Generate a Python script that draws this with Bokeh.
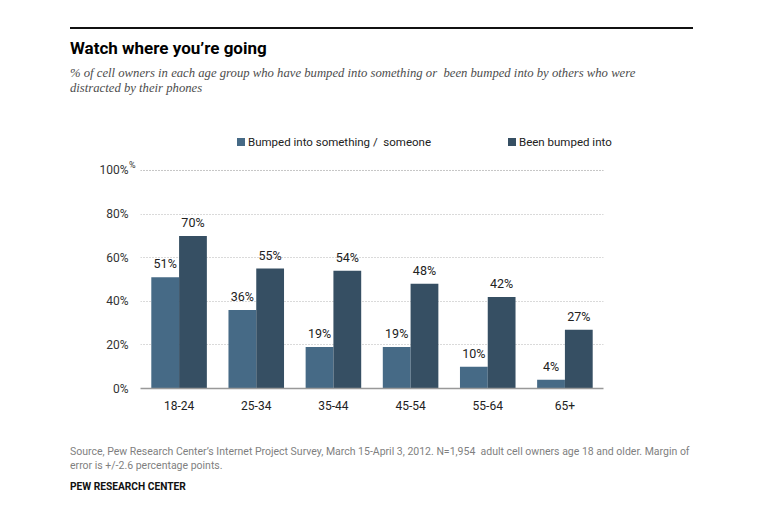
from bokeh.plotting import figure
from bokeh.models import (ColumnDataSource, FactorRange, Range1d, LabelSet, FixedTicker,
                          LinearAxis, CustomJSTickFormatter, Div, Span)
from bokeh.layouts import column
from bokeh.transform import dodge
from bokeh.core.properties import value
from bokeh.embed import file_html
from bokeh.resources import INLINE

categories = ["18-24", "25-34", "35-44", "45-54", "55-64", "65+"]
bumped_into = [51, 36, 19, 19, 10, 4]
been_bumped = [70, 55, 54, 48, 42, 27]
y_ticks = [0, 20, 40, 60, 80, 100]
y_tick_labels = ["0%", "20%", "40%", "60%", "80%", "100%"]
series_names = ["Bumped into something /  someone", "Been bumped into"]

title_text = "Watch where you\u2019re going"
subtitle_lines = ["% of cell owners in each age group who have bumped into something or  been bumped into by others who were",
                  "distracted by their phones"]
note_lines = ["Source, Pew Research Center\u2019s Internet Project Survey, March 15-April 3, 2012. N=1,954  adult cell owners age 18 and older. Margin of",
              "error is +/-2.6 percentage points."]
credit_text = "PEW RESEARCH CENTER"

C_LIGHT = "#466A86"
C_DARK = "#364F63"
SANS = "Roboto"
GRID_COLOR = "#b4b4b4"
W = 744
HEAD_H = 150
FIG_H = 280
FOOT_H = 72

src = ColumnDataSource(dict(
    cat=categories,
    v1=bumped_into,
    v2=been_bumped,
    t1=[f"{v}%" for v in bumped_into],
    t2=[f"{v}%" for v in been_bumped],
))

p = figure(width=W, height=FIG_H, x_range=FactorRange(factors=categories, range_padding=0),
           y_range=Range1d(0, 103.2), output_backend="svg", toolbar_location=None,
           min_border_left=140, min_border_right=141, min_border_top=13, min_border_bottom=42,
           margin=0)
p.outline_line_color = None

p.vbar(x=dodge("cat", -0.18, range=p.x_range), top="v1", width=0.36, source=src,
       fill_color=C_LIGHT, line_color=None)
p.vbar(x=dodge("cat", 0.18, range=p.x_range), top="v2", width=0.36, source=src,
       fill_color=C_DARK, line_color=None)

for col, tcol, off in (("v1", "t1", -0.18), ("v2", "t2", 0.18)):
    p.add_layout(LabelSet(x=dodge("cat", off, range=p.x_range), y=col, text=tcol, source=src,
                          y_offset=6, text_align="center", text_baseline="bottom",
                          text_font=value(SANS), text_font_size=value("12.5px"),
                          text_color=value("#222222")))

p.xgrid.grid_line_color = None
p.ygrid.ticker = FixedTicker(ticks=y_ticks)
p.ygrid.grid_line_color = GRID_COLOR
p.ygrid.grid_line_dash = "1 2"
p.ygrid.grid_line_width = 1
p.add_layout(Span(location=y_ticks[-1], dimension="width", line_color=GRID_COLOR,
                  line_dash="1 2", line_width=1))

main_y = p.yaxis[0]
main_y.ticker = FixedTicker(ticks=y_ticks)
main_y.major_label_overrides = {t: l for t, l in zip(y_ticks, y_tick_labels)}
main_y.axis_line_color = None
main_y.major_tick_line_color = None
main_y.major_tick_out = 0
main_y.minor_tick_line_color = None
main_y.major_label_standoff = -3
main_y.major_label_text_font = SANS
main_y.major_label_text_font_size = "12px"
main_y.major_label_text_color = "#333333"

# small raised "%" beside the 100% label
pct_axis = LinearAxis(ticker=FixedTicker(ticks=[102.5]),
                      formatter=CustomJSTickFormatter(code="return '%';"),
                      axis_line_color=None, major_tick_line_color=None, major_tick_out=0,
                      minor_tick_line_color=None, major_label_standoff=5,
                      major_label_text_font=SANS, major_label_text_font_size="9px",
                      major_label_text_color="#333333")
p.left = [pct_axis, main_y]

p.xaxis.axis_line_color = "#999999"
p.xaxis.axis_line_width = 1.5
p.xaxis.major_tick_line_color = None
p.xaxis.major_tick_out = 0
p.xaxis.minor_tick_line_color = None
p.xaxis.major_label_standoff = 12
p.xaxis.major_label_text_font = SANS
p.xaxis.major_label_text_font_size = "12px"
p.xaxis.major_label_text_color = "#222222"


def abs_text(left, top, lh, text, font, color, extra=""):
    return (f'<div style="position:absolute;left:{left}px;top:{top}px;line-height:{lh}px;'
            f'font:{font};color:{color};white-space:pre;{extra}">{text}</div>')


SERIF_IT = "italic 12.7px 'Liberation Serif', serif"
head_parts = [
    '<div style="position:absolute;left:70px;top:27px;width:623px;height:2px;background:#111111;"></div>',
    abs_text(70, 38, 20, title_text, f"bold 17px {SANS}", "#000000"),
    abs_text(70, 65.5, 15, subtitle_lines[0], SERIF_IT, "#4d4d4d"),
    abs_text(70, 80.5, 15, subtitle_lines[1], SERIF_IT, "#4d4d4d"),
]
for lx, color, name in ((237, C_LIGHT, series_names[0]), (508, C_DARK, series_names[1])):
    head_parts.append(f'<div style="position:absolute;left:{lx}px;top:138px;width:8px;height:8px;background:{color};"></div>')
    head_parts.append(abs_text(lx + 11, 135, 14, name, f"11.5px {SANS}", "#222222"))
header = Div(text=f'<div style="position:relative;width:{W}px;height:{HEAD_H}px;">' + "".join(head_parts) + "</div>",
             width=W, height=HEAD_H, margin=0)

NOTE_FONT = f"10.5px 'Liberation Sans Narrow', {SANS}, sans-serif"
foot_parts = [
    abs_text(70, 15, 14, note_lines[0], NOTE_FONT, "#7f7f7f"),
    abs_text(70, 29, 14, note_lines[1], NOTE_FONT, "#7f7f7f"),
    abs_text(70, 51, 12, credit_text, f"bold 10.2px {SANS}", "#111111"),
]
footer = Div(text=f'<div style="position:relative;width:{W}px;height:{FOOT_H}px;">' + "".join(foot_parts) + "</div>",
             width=W, height=FOOT_H, margin=0)

layout = column(header, p, footer, spacing=0, margin=0)
open("out.html", "w").write(file_html(layout, INLINE))
